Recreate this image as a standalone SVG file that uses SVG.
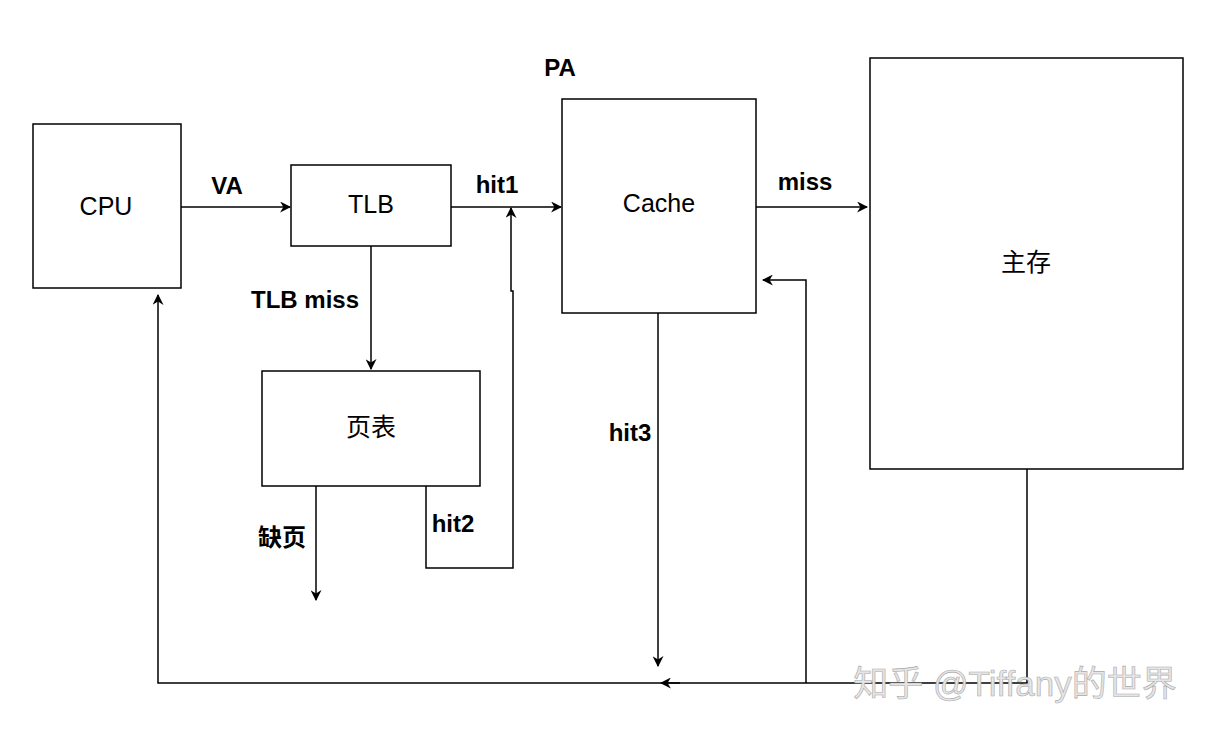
<svg xmlns="http://www.w3.org/2000/svg" width="1215" height="735" viewBox="0 0 1215 735">
<style>
.box{fill:#fff;stroke:#000;stroke-width:1.5}
.t{font-family:"Liberation Sans","Noto Sans CJK SC",sans-serif;font-size:25px;fill:#000}
.b{font-family:"Liberation Sans","Noto Sans CJK SC",sans-serif;font-size:24px;font-weight:bold;fill:#000}
.l{fill:none;stroke:#000;stroke-width:1.5}
</style>
<defs><marker id="a" viewBox="0 0 10 10" refX="9" refY="5" markerWidth="11" markerHeight="11" markerUnits="userSpaceOnUse" orient="auto"><path d="M0,0L10,5L0,10L3,5Z" fill="#000"/></marker></defs>
<rect width="1215" height="735" fill="#fff"/>
<g id="cpu"><rect class="box" x="33" y="124" width="148" height="164"/><text class="t" x="106" y="215" text-anchor="middle">CPU</text></g>
<g id="tlb"><rect class="box" x="291" y="165" width="160" height="81"/><text class="t" x="371" y="213" text-anchor="middle">TLB</text></g>
<g id="cache"><rect class="box" x="562" y="99" width="194" height="214"/><text class="t" x="659" y="212" text-anchor="middle">Cache</text></g>
<g id="mem"><rect class="box" x="870" y="58" width="313" height="411"/><text class="t" x="1026" y="271" text-anchor="middle">主存</text></g>
<g id="pt"><rect class="box" x="262" y="371" width="218" height="115"/><text class="t" x="371" y="436" text-anchor="middle">页表</text></g>
<g id="connectors">
<path class="l" d="M181,207H290" marker-end="url(#a)"/>
<path class="l" d="M451,207H561" marker-end="url(#a)"/>
<path class="l" d="M756,207H867" marker-end="url(#a)"/>
<path class="l" d="M371,246V369" marker-end="url(#a)"/>
<path class="l" d="M426,486V568H513V291H511V208" marker-end="url(#a)"/>
<path class="l" d="M316,486V600" marker-end="url(#a)"/>
<path class="l" d="M658,313V666" marker-end="url(#a)"/>
<path class="l" d="M1027,469V683H158V295" marker-end="url(#a)"/>
<path class="l" d="M680,683H661" marker-end="url(#a)"/>
<path class="l" d="M806,683V280H763" marker-end="url(#a)"/>
</g>
<g id="labels">
<text class="b" x="227" y="194" text-anchor="middle">VA</text>
<text class="b" x="497" y="193" text-anchor="middle">hit1</text>
<text class="b" x="805" y="190" text-anchor="middle">miss</text>
<text class="b" x="305" y="308" text-anchor="middle">TLB miss</text>
<text class="b" x="453" y="532" text-anchor="middle">hit2</text>
<text class="b" x="282" y="546" text-anchor="middle">缺页</text>
<text class="b" x="630" y="441" text-anchor="middle">hit3</text>
<text class="b" x="560" y="76" text-anchor="middle">PA</text>
<text x="1015" y="696" text-anchor="middle" font-family="Liberation Sans,Noto Sans CJK SC,sans-serif" font-size="35" fill="#e6e6e6" stroke="#aaa" stroke-width="0.6">知乎 @Tiffany的世界</text>
</g>
</svg>
